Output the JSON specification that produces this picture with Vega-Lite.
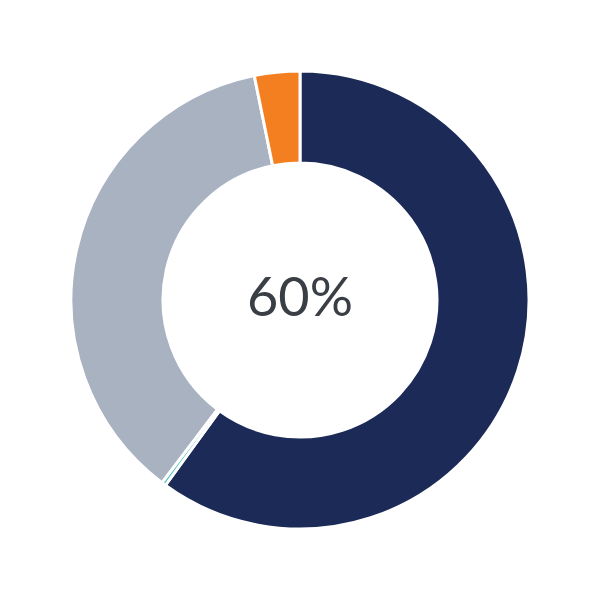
{
  "$schema": "https://vega.github.io/schema/vega-lite/v6.json",
  "autosize": {"type": "fit", "contains": "padding"},
  "width": 600,
  "height": 600,
  "padding": 0,
  "background": "white",
  "view": {"stroke": null},
  "layer": [
    {
      "data": {
        "values": [
          {"segment": "Primary", "share": 60.0, "rank": 1},
          {"segment": "Other", "share": 0.3, "rank": 2},
          {"segment": "Secondary", "share": 36.5, "rank": 3},
          {"segment": "Tertiary", "share": 3.2, "rank": 4}
        ]
      },
      "mark": {"type": "arc", "innerRadius": 137, "outerRadius": 229, "stroke": "white", "strokeWidth": 3},
      "encoding": {
        "theta": {"field": "share", "type": "quantitative", "stack": true},
        "order": {"field": "rank", "type": "quantitative"},
        "color": {
          "field": "segment",
          "type": "nominal",
          "scale": {
            "domain": ["Primary", "Other", "Secondary", "Tertiary"],
            "range": ["#1b2a57", "#4fc1c1", "#a8b2c1", "#f47f20"]
          },
          "legend": null
        }
      }
    },
    {
      "data": {"values": [{"label": "60%"}]},
      "mark": {"type": "text", "font": "Lato", "fontWeight": "normal", "fontSize": 54, "color": "#3a3f45", "align": "center", "baseline": "middle"},
      "encoding": {"text": {"field": "label"}}
    }
  ]
}
